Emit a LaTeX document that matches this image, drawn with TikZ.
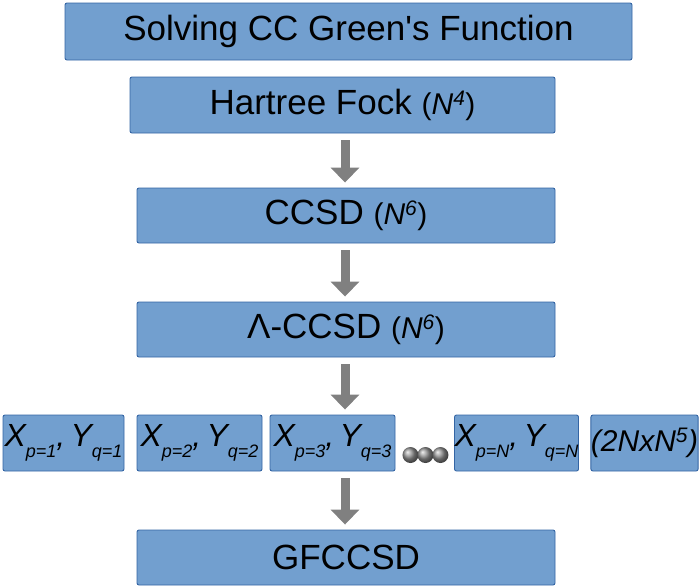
\documentclass[tikz,border=0pt]{standalone}
\usepackage{fontspec}
\setmainfont{Liberation Sans}
\usetikzlibrary{arrows.meta,positioning,calc}
\definecolor{boxfill}{HTML}{729FCF}
\definecolor{boxline}{HTML}{3465A4}
\definecolor{arrgray}{HTML}{808080}
\newcommand{\lowsub}[1]{\raisebox{-0.34em}{\fontsize{18}{18}\selectfont #1}}
\newcommand{\straightq}{\XeTeXglyph\the\XeTeXcharglyph"0027\relax}

\begin{document}
\begin{tikzpicture}[x=1pt,y=-1pt,
   blk/.style={draw=boxline,fill=boxfill,rounded corners=2pt,line width=0.9pt,inner sep=0pt,
     minimum height=55pt,font=\fontsize{35}{40}\selectfont},
   rowbox/.style={blk,minimum height=56pt,font=\fontsize{32}{36}\selectfont\itshape},
   flow/.style={arrgray,line width=9pt,-{Triangle[width=28pt,length=15pt]},shorten <=7pt,shorten >=5pt}]

  \useasboundingbox (0,0) rectangle (700,587);

  % ---- main chain ----
  \node[blk,minimum width=567pt,minimum height=57pt] (title) at (348.5,31.5) {Solving CC Green\straightq s Function};
  \node[blk,minimum width=425pt,minimum height=56pt] (hf) at (342.5,105) {Hartree Fock {\fontsize{30}{36}\selectfont(\textit{N}\textsuperscript{\textit{4}})}};
  \node[blk,minimum width=418pt] (ccsd) at (346,215.5) {CCSD {\fontsize{30}{36}\selectfont(\textit{N}\textsuperscript{\textit{6}})}};
  \node[blk,minimum width=418pt] (lccsd) at (346,329.5) {Λ-CCSD {\fontsize{30}{36}\selectfont(\textit{N}\textsuperscript{\textit{6}})}};

  % ---- X, Y row ----
  \node[rowbox,minimum width=121pt] (xy1) at (63.5,443) {X\lowsub{p=1},\,Y\lowsub{q=1}};
  \node[rowbox,minimum width=125pt] (xy2) at (199.5,443) {X\lowsub{p=2},\,Y\lowsub{q=2}};
  \node[rowbox,minimum width=125pt] (xy3) at (332.5,443) {X\lowsub{p=3},\,Y\lowsub{q=3}};
  \node[rowbox,minimum width=123pt] (xyN) at (516.5,443) {X\lowsub{p=N},\,Y\lowsub{q=N}};
  \node[rowbox,minimum width=107pt,font=\fontsize{30}{36}\selectfont\itshape] (cost) at (644.5,443) {(2NxN\textsuperscript{5})};
  \foreach \i in {0,1,2}{\shade[ball color=gray!85] ($(xy3.east)+(15+15*\i,12)$) circle (8pt);}

  \node[blk,minimum width=418pt] (gf) at (346,557.5) {GFCCSD};

  % ---- arrows ----
  \draw[flow] (hf.south -| 345,0) -- (ccsd.north -| 345,0);
  \draw[flow] (ccsd.south -| 345,0) -- (lccsd.north -| 345,0);
  \draw[flow] (lccsd.south -| 345,0) -- (xy3.north -| 345,0);
  \draw[flow] (xy3.south -| 345,0) -- (gf.north -| 345,0);
\end{tikzpicture}
\end{document}
